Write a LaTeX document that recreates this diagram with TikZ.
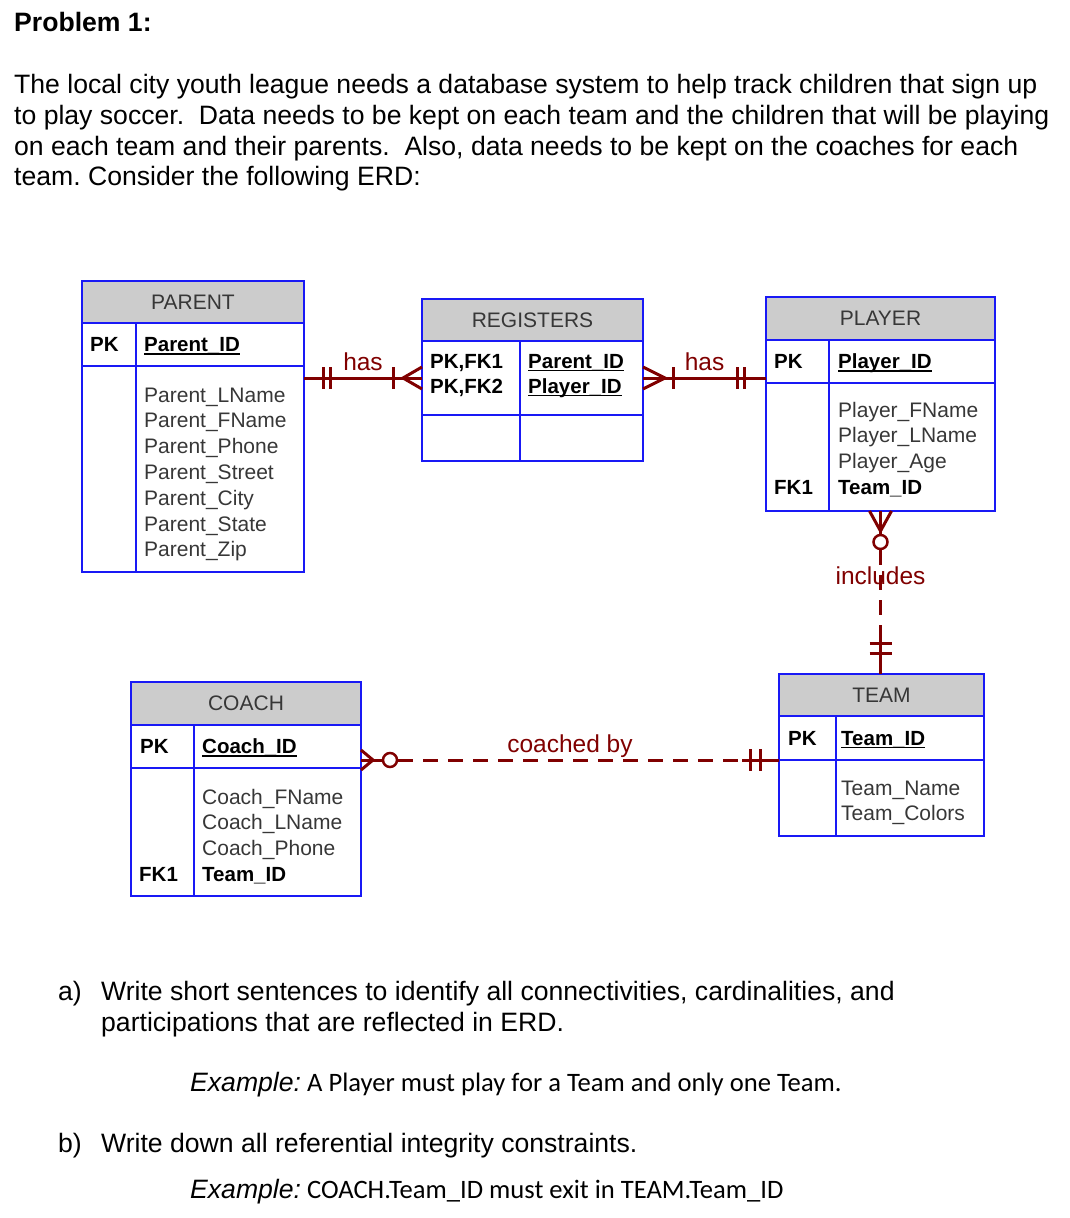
\documentclass[tikz,border=0pt]{standalone}
\usepackage{fontspec}
\setmainfont{Liberation Sans}
\newfontfamily\calfont{Carlito}
\usetikzlibrary{calc}
\frenchspacing

\definecolor{erblue}{RGB}{25,25,245}
\definecolor{ergrey}{RGB}{204,204,204}
\definecolor{erred}{RGB}{128,0,0}
\definecolor{ertext}{RGB}{55,55,55}

\newcommand{\ulkey}[1]{\setbox0=\hbox{#1}\rlap{\rule[-3pt]{\wd0}{1.2pt}}\box0}

\tikzset{
  tbl/.style={draw=erblue, line width=2pt, inner sep=0pt, outer sep=0pt,
    anchor=north west},
  ttl/.style={tbl, fill=ergrey, text=ertext,
    font=\fontsize{21}{25.8}\selectfont},
  keyf/.style={font=\fontsize{20.5}{25}\selectfont\bfseries, inner sep=0pt,
    anchor=base west},
  attr/.style={font=\fontsize{21}{25.8}\selectfont, text=ertext,
    inner sep=0pt, anchor=base west},
  rel/.style={draw=erred, line width=3pt},
  reldash/.style={rel, dash pattern=on 15pt off 10pt},
  lbl/.style={text=erred, font=\fontsize{24.5}{28}\selectfont, inner sep=0pt},
  txt/.style={font=\fontsize{26.6}{31}\selectfont, inner sep=0pt,
    anchor=base west}
}

\begin{document}
\begin{tikzpicture}[x=1pt, y=-1pt]
  \useasboundingbox (0,0) rectangle (1070,1218);

  % question text
  \node[txt, font=\fontsize{26.6}{31}\selectfont\bfseries] (prob) at (14,31) {Problem 1:};
  \node[txt] (intro1) at (14,93) {The local city youth league needs a database system to help track children that sign up};
  \node[txt] (intro2) at (14,124) {to play soccer.\ \ Data needs to be kept on each team and the children that will be playing};
  \node[txt] (intro3) at (14,155) {on each team and their parents.\ \ Also, data needs to be kept on the coaches for each};
  \node[txt] (intro4) at (14,185) {team. Consider the following ERD:};

  % PARENT
  \node[ttl, minimum width=222pt, minimum height=42pt] (parent-t) at (82,281) {PARENT};
  \node[tbl, minimum width=222pt, minimum height=43pt] (parent-k) at (parent-t.south west) {};
  \node[tbl, minimum width=222pt, minimum height=206pt] (parent-b) at (parent-k.south west) {};
  \draw[erblue, line width=2pt] ([xshift=54pt]parent-k.north west) -- ([xshift=54pt]parent-b.south west);
  \node[keyf] (parent-pk) at ($(parent-k.west)+(8,7)$) {PK};
  \node[keyf] (parent-id) at ($(parent-k.west)+(62,7)$) {\ulkey{Parent\_ID}};
  \foreach \a [count=\i from 0] in {Parent\_LName, Parent\_FName, Parent\_Phone,
      Parent\_Street, Parent\_City, Parent\_State, Parent\_Zip}
    \node[attr] (parent-a\i) at ($(parent-b.north west)+(62,36+25.8*\i)$) {\a};

  % REGISTERS
  \node[ttl, minimum width=221pt, minimum height=42pt] (reg-t) at (422,299) {REGISTERS};
  \node[tbl, minimum width=221pt, minimum height=74pt] (reg-k) at (reg-t.south west) {};
  \node[tbl, minimum width=221pt, minimum height=46pt] (reg-b) at (reg-k.south west) {};
  \draw[erblue, line width=2pt] ([xshift=98pt]reg-k.north west) -- ([xshift=98pt]reg-b.south west);
  \node[keyf] (reg-pk1) at ($(reg-k.north west)+(8,27)$) {PK,FK1};
  \node[keyf] (reg-pk2) at ($(reg-k.north west)+(8,52)$) {PK,FK2};
  \node[keyf] (reg-id1) at ($(reg-k.north west)+(106,27)$) {\ulkey{Parent\_ID}};
  \node[keyf] (reg-id2) at ($(reg-k.north west)+(106,52)$) {\ulkey{Player\_ID}};

  % PLAYER
  \node[ttl, minimum width=229pt, minimum height=43pt] (player-t) at (766,297) {PLAYER};
  \node[tbl, minimum width=229pt, minimum height=43pt] (player-k) at (player-t.south west) {};
  \node[tbl, minimum width=229pt, minimum height=128pt] (player-b) at (player-k.south west) {};
  \draw[erblue, line width=2pt] ([xshift=63pt]player-k.north west) -- ([xshift=63pt]player-b.south west);
  \node[keyf] (player-pk) at ($(player-k.west)+(8,7)$) {PK};
  \node[keyf] (player-id) at ($(player-k.west)+(72,7)$) {\ulkey{Player\_ID}};
  \foreach \a [count=\i from 0] in {Player\_FName, Player\_LName, Player\_Age}
    \node[attr] (player-a\i) at ($(player-b.north west)+(72,34+25.8*\i)$) {\a};
  \node[keyf] (player-fk) at ($(player-b.north west)+(8,34+25.8*3)$) {FK1};
  \node[keyf] (player-tid) at ($(player-b.north west)+(72,34+25.8*3)$) {Team\_ID};

  % COACH
  \node[ttl, minimum width=230pt, minimum height=43pt] (coach-t) at (131,682) {COACH};
  \node[tbl, minimum width=230pt, minimum height=43pt] (coach-k) at (coach-t.south west) {};
  \node[tbl, minimum width=230pt, minimum height=128pt] (coach-b) at (coach-k.south west) {};
  \draw[erblue, line width=2pt] ([xshift=63pt]coach-k.north west) -- ([xshift=63pt]coach-b.south west);
  \node[keyf] (coach-pk) at ($(coach-k.west)+(9,7)$) {PK};
  \node[keyf] (coach-id) at ($(coach-k.west)+(71,7)$) {\ulkey{Coach\_ID}};
  \foreach \a [count=\i from 0] in {Coach\_FName, Coach\_LName, Coach\_Phone}
    \node[attr] (coach-a\i) at ($(coach-b.north west)+(71,36+25.8*\i)$) {\a};
  \node[keyf] (coach-fk) at ($(coach-b.north west)+(8,36+25.8*3)$) {FK1};
  \node[keyf] (coach-tid) at ($(coach-b.north west)+(71,36+25.8*3)$) {Team\_ID};

  % TEAM
  \node[ttl, minimum width=205pt, minimum height=42pt] (team-t) at (779,674) {TEAM};
  \node[tbl, minimum width=205pt, minimum height=44pt] (team-k) at (team-t.south west) {};
  \node[tbl, minimum width=205pt, minimum height=76pt] (team-b) at (team-k.south west) {};
  \draw[erblue, line width=2pt] ([xshift=57pt]team-k.north west) -- ([xshift=57pt]team-b.south west);
  \node[keyf] (team-pk) at ($(team-k.west)+(9,7)$) {PK};
  \node[keyf] (team-id) at ($(team-k.west)+(62,7)$) {\ulkey{Team\_ID}};
  \foreach \a [count=\i from 0] in {Team\_Name, Team\_Colors}
    \node[attr] (team-a\i) at ($(team-b.north west)+(62,35+25.8*\i)$) {\a};

  % PARENT -- REGISTERS
  \coordinate (has1) at (parent-b.east |- reg-k.west);
  \draw[rel] (has1) -- node[lbl, above=6pt] (has1-lbl) {has} (reg-k.west);
  \draw[rel] ($(has1)+(19,-11)$) -- ++(0,22);
  \draw[rel] ($(has1)+(26,-11)$) -- ++(0,22);
  \draw[rel] ($(reg-k.west)+(-29,-11)$) -- ++(0,22);
  \draw[rel] ($(reg-k.west)+(0,-11)$) -- ($(reg-k.west)+(-19,0)$) -- ($(reg-k.west)+(0,11)$);

  % REGISTERS -- PLAYER
  \coordinate (has2) at (player-k.west |- reg-k.east);
  \draw[rel] (reg-k.east) -- node[lbl, above=6pt] (has2-lbl) {has} (has2);
  \draw[rel] ($(reg-k.east)+(0,-11)$) -- ($(reg-k.east)+(22,0)$) -- ($(reg-k.east)+(0,11)$);
  \draw[rel] ($(reg-k.east)+(30,-11)$) -- ++(0,22);
  \draw[rel] ($(has2)+(-29,-11)$) -- ++(0,22);
  \draw[rel] ($(has2)+(-22,-11)$) -- ++(0,22);

  % PLAYER -- TEAM
  \coordinate (inc-e) at (player-b.south |- team-t.north);
  \coordinate (inc-d) at ($(inc-e)+(0,-42)$);
  \node[circle, draw=erred, line width=2.5pt, minimum size=14pt, inner sep=0pt]
    (inc-o) at ($(player-b.south)+(0,31)$) {};
  \draw[rel] (player-b.south) -- (inc-o.north);
  \draw[rel] ($(player-b.south)+(-11,0)$) -- ($(player-b.south)+(0,20)$) -- ($(player-b.south)+(11,0)$);
  \draw[reldash] (inc-o.south) -- node[lbl, pos=0.42, anchor=base] (inc-lbl) {includes} (inc-d);
  \draw[rel] (inc-d) -- (inc-e);
  \draw[rel] ($(inc-e)+(-11,-31)$) -- ++(22,0);
  \draw[rel] ($(inc-e)+(-11,-21)$) -- ++(22,0);

  % COACH -- TEAM
  \coordinate (cb-s) at (coach-k.east |- team-k.south west);
  \coordinate (cb-e) at (team-k.south west);
  \coordinate (cb-d) at ($(cb-e)+(-37,0)$);
  \node[circle, draw=erred, line width=2.5pt, minimum size=14pt, inner sep=0pt]
    (cb-o) at ($(cb-s)+(29,0)$) {};
  \draw[rel] (cb-s) -- (cb-o.west);
  \draw[rel] ($(cb-s)+(0,-10)$) -- ($(cb-s)+(12,0)$) -- ($(cb-s)+(0,10)$);
  \draw[reldash] (cb-o.east) -- (cb-d);
  \draw[rel] (cb-d) -- (cb-e);
  \draw[rel] ($(cb-e)+(-29,-11)$) -- ++(0,22);
  \draw[rel] ($(cb-e)+(-19,-11)$) -- ++(0,22);
  \node[lbl, anchor=base] (cb-lbl) at ($(cb-s)!0.5!(cb-e)+(0,-8)$) {coached by};

  % questions
  \node[txt] (qa) at (58,1000) {a)};
  \node[txt] (qa1) at (101,1000) {Write short sentences to identify all connectivities, cardinalities, and};
  \node[txt] (qa2) at (101,1031) {participations that are reflected in ERD.};
  \node[txt] (exa) at (190,1091) {\textit{Example:}{\calfont\ A Player must play for a Team and only one Team.}};
  \node[txt] (qb) at (58,1152) {b)};
  \node[txt] (qb1) at (101,1152) {Write down all referential integrity constraints.};
  \node[txt] (exb) at (190,1198) {\textit{Example:}{\calfont\ COACH.Team\_ID must exit in TEAM.Team\_ID}};
\end{tikzpicture}
\end{document}
